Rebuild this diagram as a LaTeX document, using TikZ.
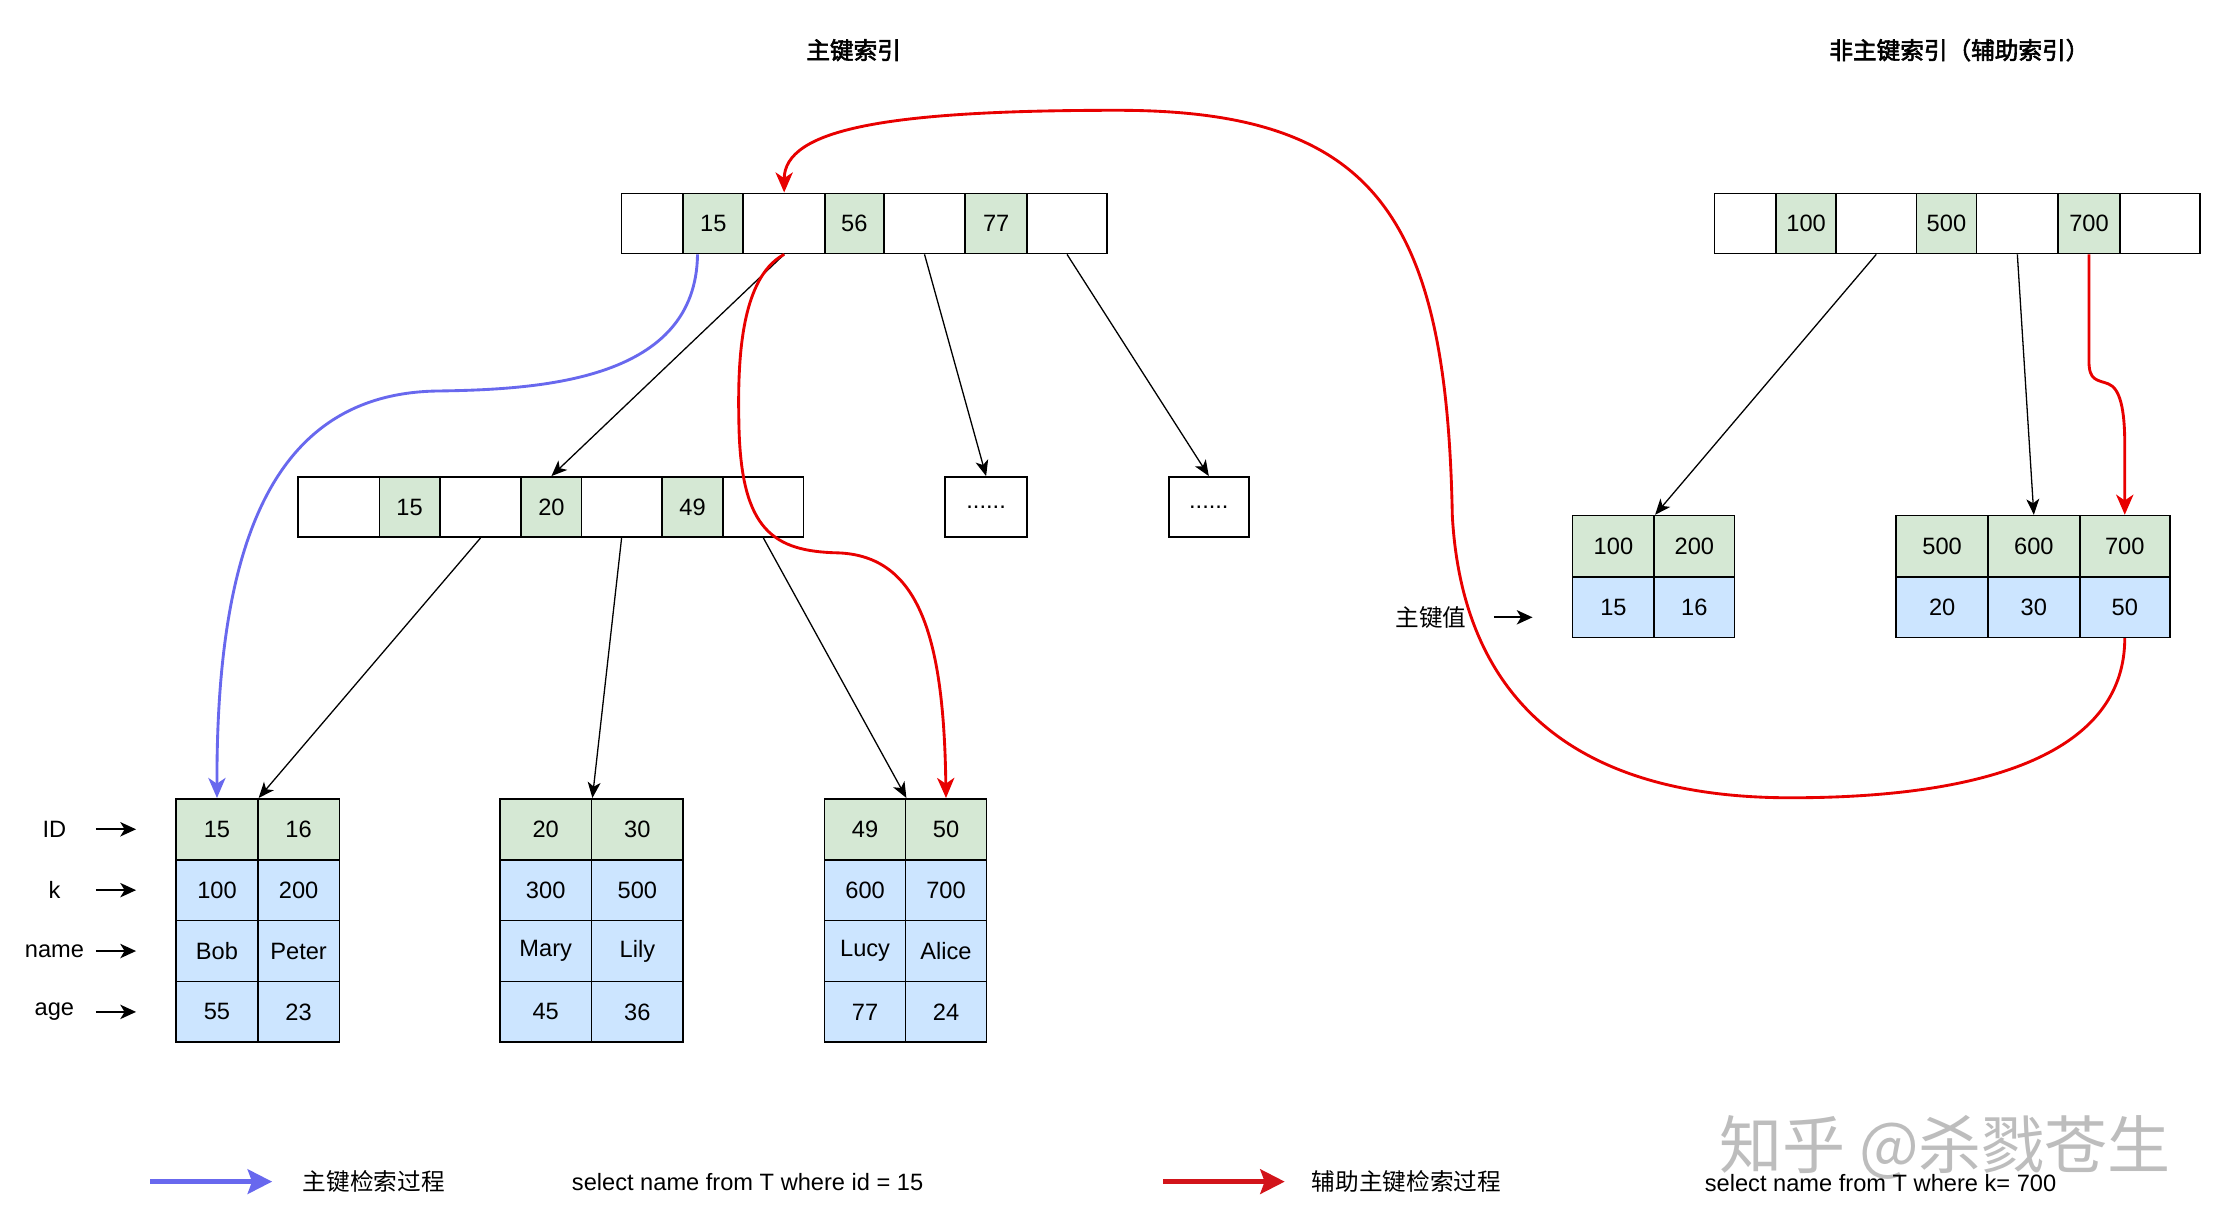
\documentclass[tikz,border=0pt]{standalone}
\usepackage{fontspec}
\setmainfont{Liberation Sans}
\newfontfamily\cjk{Noto Sans CJK SC}
\newfontfamily\cjkb[FakeBold=2.5]{Noto Sans CJK SC}
\usetikzlibrary{arrows.meta}
\definecolor{gfill}{HTML}{D5E8D4}
\definecolor{bfill}{HTML}{CCE5FF}
\definecolor{redc}{HTML}{E80000}
\definecolor{bluec}{HTML}{6868EE}
\definecolor{legred}{HTML}{D2141A}
\definecolor{wmc}{HTML}{BDBDBD}
\newcommand{\cellfont}{\fontsize{16.5}{18}\selectfont}
\tikzset{
  cell/.style={draw, line width=1.2pt, inner sep=0pt, minimum height=42pt, font=\cellfont},
  gk/.style={cell, fill=gfill},
  bk/.style={cell, fill=bfill},
  lab/.style={inner sep=0pt, font=\cellfont},
  cjklab/.style={inner sep=0pt, font=\cjk\cellfont},
  ttl/.style={inner sep=0pt, font=\cjkb\cellfont},
  ptr/.style={-{Stealth[length=11pt,width=9pt,inset=3pt]}, line width=0.9pt},
  lptr/.style={-{Stealth[length=11pt,width=10pt,inset=3pt]}, line width=1.4pt},
  redp/.style={-{Stealth[length=14pt,width=12pt,inset=4pt]}, line width=2pt, draw=redc},
  bluep/.style={-{Stealth[length=14pt,width=12pt,inset=4pt]}, line width=2pt, draw=bluec},
  legarrow/.style={-{Stealth[length=17pt,width=17pt,inset=3pt]}, line width=3.5pt},
}
\begin{document}
\begin{tikzpicture}[x=1pt,y=-1pt]
\useasboundingbox[fill=white] (0,0) rectangle (1550,857);

% titles
\node[ttl] (title1) at (596,35) {主键索引};
\node[ttl] (title2) at (1368,35) {非主键索引（辅助索引）};

% primary root
\node[cell,minimum width=43] (r1) at (455.5,156) {};
\node[gk,minimum width=42] (r15) at (498,156) {15};
\node[cell,minimum width=57] (r2) at (547.5,156) {};
\node[gk,minimum width=41] (r56) at (596.5,156) {56};
\node[cell,minimum width=57] (r3) at (645.5,156) {};
\node[gk,minimum width=43] (r77) at (695.5,156) {77};
\node[cell,minimum width=56] (r4) at (745,156) {};

% second level
\node[cell,minimum width=57] (s1) at (236.5,354) {};
\node[gk,minimum width=42] (s15) at (286,354) {15};
\node[cell,minimum width=57] (s2) at (335.5,354) {};
\node[gk,minimum width=42] (s20) at (385,354) {20};
\node[cell,minimum width=56] (s3) at (434,354) {};
\node[gk,minimum width=43] (s49) at (483.5,354) {49};
\node[cell,minimum width=56] (s4) at (533,354) {};

\node[cell,minimum width=57] (d1) at (688.5,354) {......};
\node[cell,minimum width=56] (d2) at (844,354) {......};

% leaves of primary index
\foreach \t/\xa/\xb/\w/\va/\vb/\vc/\vd/\ve/\vf/\vg/\vh in {
  L1/151.5/208.5/57/15/16/100/200/Bob/Peter/55/23,
  L2/381/445/64/20/30/300/500/Mary/Lily/45/36,
  L3/604/660.5/56.5/49/50/600/700/Lucy/Alice/77/24}{
  \node[gk,minimum width=\w,minimum height=42.5] (\t-1-1) at (\xa,579) {\va};
  \node[gk,minimum width=\w,minimum height=42.5] (\t-1-2) at (\xb,579) {\vb};
  \node[bk,minimum width=\w,minimum height=42.5] (\t-2-1) at (\xa,621.5) {\vc};
  \node[bk,minimum width=\w,minimum height=42.5] (\t-2-2) at (\xb,621.5) {\vd};
  \node[bk,minimum width=\w,minimum height=42.5] (\t-3-1) at (\xa,664) {\ve};
  \node[bk,minimum width=\w,minimum height=42.5] (\t-3-2) at (\xb,664) {\vf};
  \node[bk,minimum width=\w,minimum height=42.5] (\t-4-1) at (\xa,706.5) {\vg};
  \node[bk,minimum width=\w,minimum height=42.5] (\t-4-2) at (\xb,706.5) {\vh};
}

% row labels
\node[lab] (lid) at (38,579) {ID};
\node[lab] (lk) at (38,621.5) {k};
\node[lab] (lname) at (38,664) {name};
\node[lab] (lage) at (38,706.5) {age};
\foreach \n/\y in {lid/579,lk/621.5,lname/664,lage/706.5}{
  \coordinate (\n-a) at (67,\y);
  \coordinate (\n-b) at (95,\y);
  \draw[lptr] (\n-a) -- (\n-b);
}

% secondary root
\node[cell,minimum width=43] (q1) at (1218.5,156) {};
\node[gk,minimum width=42] (q100) at (1261,156) {100};
\node[cell,minimum width=56] (q2) at (1310,156) {};
\node[gk,minimum width=42] (q500) at (1359,156) {500};
\node[cell,minimum width=57] (q3) at (1408.5,156) {};
\node[gk,minimum width=43] (q700) at (1458.5,156) {700};
\node[cell,minimum width=56] (q4) at (1508,156) {};

% secondary leaves
\node[gk,minimum width=57,minimum height=43] (A-1-1) at (1126.5,381.5) {100};
\node[gk,minimum width=56,minimum height=43] (A-1-2) at (1183,381.5) {200};
\node[bk,minimum width=57] (A-2-1) at (1126.5,424) {15};
\node[bk,minimum width=56] (A-2-2) at (1183,424) {16};

\node[gk,minimum width=64,minimum height=43] (B-1-1) at (1356,381.5) {500};
\node[gk,minimum width=64,minimum height=43] (B-1-2) at (1420,381.5) {600};
\node[gk,minimum width=63,minimum height=43] (B-1-3) at (1483.5,381.5) {700};
\node[bk,minimum width=64] (B-2-1) at (1356,424) {20};
\node[bk,minimum width=64] (B-2-2) at (1420,424) {30};
\node[bk,minimum width=63] (B-2-3) at (1483.5,424) {50};

\node[cjklab] (pkv) at (999,431) {主键值};
\coordinate (pkv-a) at (1043,431);
\coordinate (pkv-b) at (1070,431);
\draw[lptr] (pkv-a) -- (pkv-b);

% black pointers
\draw[ptr] (r2.south) -- (s20.north);
\draw[ptr] (r3.south) -- (d1.north);
\draw[ptr] (r4.south) -- (d2.north);
\draw[ptr] (s2.south) -- (L1-1-1.north east);
\draw[ptr] (s3.south) -- (L2-1-1.north east);
\draw[ptr] (s4.south) -- (L3-1-1.north east);
\draw[ptr] (q2.south) -- (A-1-1.north east);
\draw[ptr] (q3.south) -- (B-1-2.north);

% blue search path
\draw[bluep] ([xshift=-11pt]r15.south) .. controls (486,265) and (380,272) .. (305,273)
   .. controls (190,275) and (151,380) .. (L1-1-1.north);

% red search paths
\draw[redp] (q700.south) -- (1458.5,252) .. controls (1458.5,266) and (1464,265) .. (1472,268)
   .. controls (1480,271) and (1483.5,285) .. (1483.5,310) -- (B-1-3.north);
\draw[redp] (B-2-3.south) .. controls (1483.5,520) and (1400,557) .. (1250,557)
   .. controls (1080,557) and (1020,470) .. (1014,360)
   .. controls (1010,150) and (960,77) .. (780,77)
   .. controls (620,77) and (547.5,90) .. (r2.north);
\draw[redp] (r2.south) .. controls (515,195) and (515,260) .. (516,300)
   .. controls (518,370) and (540,385) .. (585,386)
   .. controls (642,388) and (659,445) .. (L3-1-2.north);

% watermark
\node[inner sep=0pt, text=wmc, font=\cjk\fontsize{44}{46}\selectfont] (wmk) at (1358,801) {知乎 @杀戮苍生};

% legend
\coordinate (lb-a) at (105,825);
\coordinate (lb-b) at (190,825);
\draw[legarrow, draw=bluec] (lb-a) -- (lb-b);
\node[cjklab] (lbt) at (261,825) {主键检索过程};
\node[lab] (lbq) at (522,825) {select name from T where id = 15};
\coordinate (lr-a) at (812,825);
\coordinate (lr-b) at (897,825);
\draw[legarrow, draw=legred] (lr-a) -- (lr-b);
\node[cjklab] (lrt) at (982,825) {辅助主键检索过程};
\node[lab] (lrq) at (1313,826) {select name from T where k= 700};
\end{tikzpicture}
\end{document}
